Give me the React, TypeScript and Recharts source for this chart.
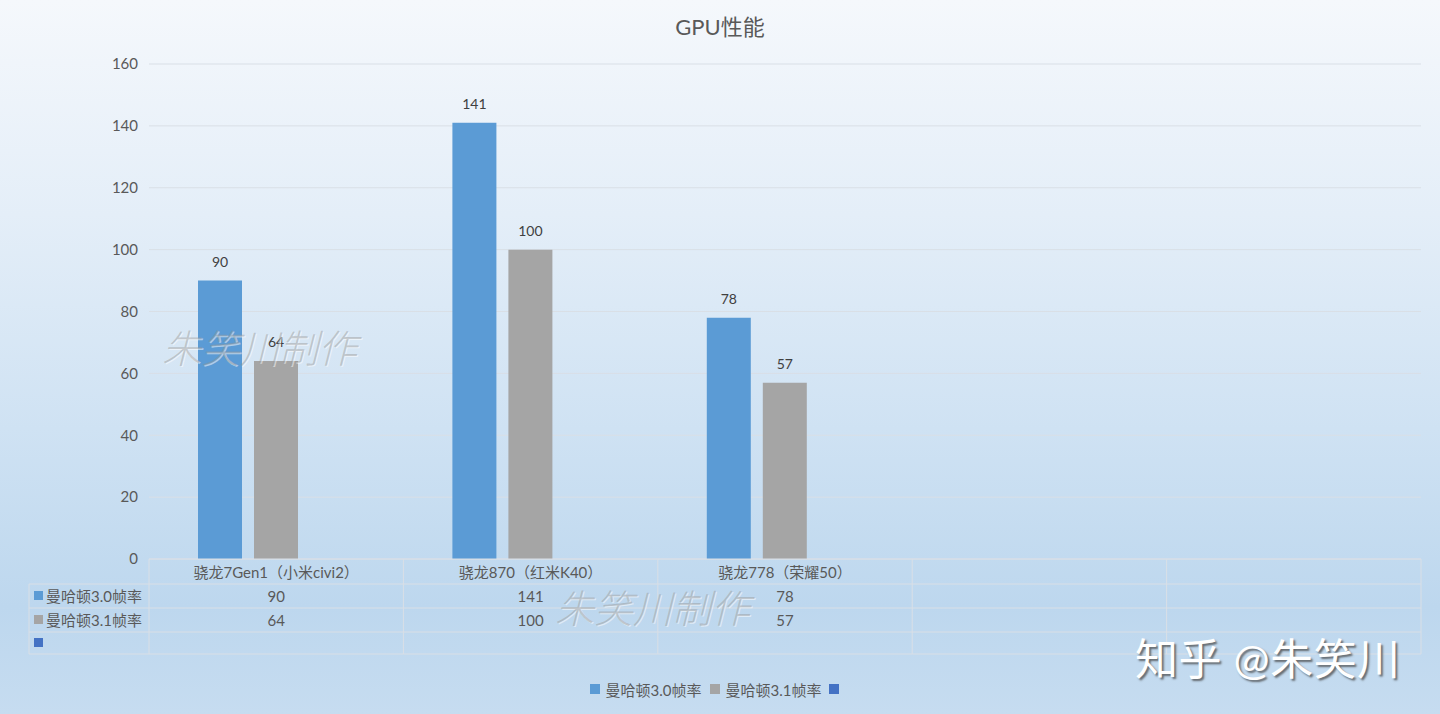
import React from "react";
import { BarChart, Bar, XAxis, YAxis, CartesianGrid, LabelList, Legend } from "recharts";

// chart values
const categories = ["骁龙7Gen1（小米civi2）", "骁龙870（红米K40）", "骁龙778（荣耀50）", "", ""];
const manhattan30 = [90, 141, 78, null, null];
const manhattan31 = [64, 100, 57, null, null];
const emptySeries = [null, null, null, null, null];
const seriesNames = ["曼哈顿3.0帧率", "曼哈顿3.1帧率", ""];
const seriesColors = ["#5b9bd5", "#a5a5a5", "#4472c4"];
const yTicks = [0, 20, 40, 60, 80, 100, 120, 140, 160];

const data = categories.map((c, i) => ({
  name: c || `blank-${i}`,
  s30: manhattan30[i],
  s31: manhattan31[i],
  s3x: emptySeries[i],
}));

const W = 1440;
const H = 714;
const MARGIN = { top: 64, right: 19, left: 0, bottom: 10 };
const Y_AXIS_W = 149;
const PLOT_W = W - MARGIN.left - MARGIN.right - Y_AXIS_W;
const CAT_W = PLOT_W / categories.length;
const LABEL_COL_W = 120;

const FONT = "Lato, 'Noto Sans CJK SC', sans-serif";
const TEXT = "#595959";
const LINE = "#d9dfe6";

const rowSeries = [manhattan30, manhattan31, emptySeries];
const ROW_TOP = [0, 25, 49, 73, 95]; // row borders, relative to axis line

// each x tick draws its own column of the data table
const TableTick = (props: any) => {
  const { x, y, index } = props;
  const half = CAT_W / 2;
  const left = x - half;
  const right = x + half;
  const cells: any[] = [];

  cells.push(
    <text key="h" x={x} y={y + 13} textAnchor="middle" dominantBaseline="central" fill={TEXT} fontSize={15}>
      {categories[index]}
    </text>
  );
  rowSeries.forEach((vals, r) => {
    const v = vals[index];
    const cy = y + (ROW_TOP[r + 1] + ROW_TOP[r + 2]) / 2;
    if (v != null)
      cells.push(
        <text key={`v${r}`} x={x} y={cy} textAnchor="middle" dominantBaseline="central" fill={TEXT} fontSize={15}>
          {v}
        </text>
      );
  });

  const lines: any[] = [];
  ROW_TOP.slice(1).forEach((t, i) =>
    lines.push(<line key={`r${i}`} x1={index === 0 ? left - LABEL_COL_W : left} x2={right} y1={y + t} y2={y + t} stroke={LINE} />)
  );
  lines.push(<line key="vr" x1={right} x2={right} y1={y} y2={y + ROW_TOP[4]} stroke={LINE} />);

  if (index === 0) {
    lines.push(<line key="vl" x1={left} x2={left} y1={y} y2={y + ROW_TOP[4]} stroke={LINE} />);
    lines.push(
      <line key="vo" x1={left - LABEL_COL_W} x2={left - LABEL_COL_W} y1={y + ROW_TOP[1]} y2={y + ROW_TOP[4]} stroke={LINE} />
    );
    seriesNames.forEach((n, r) => {
      const cy = y + (ROW_TOP[r + 1] + ROW_TOP[r + 2]) / 2;
      cells.push(
        <g key={`lab${r}`}>
          <rect x={left - LABEL_COL_W + 5} y={cy - 5} width={9} height={9} fill={seriesColors[r]} />
          <text x={left - LABEL_COL_W + 17} y={cy} dominantBaseline="central" fill={TEXT} fontSize={15}>
            {n}
          </text>
        </g>
      );
    });
  }

  return (
    <g fontFamily={FONT}>
      {lines}
      {cells}
    </g>
  );
};

const LegendContent = () => (
  <div
    style={{
      display: "flex",
      justifyContent: "center",
      alignItems: "center",
      height: 30,
      paddingLeft: 16,
      fontFamily: FONT,
      fontSize: 15,
      color: TEXT,
    }}
  >
    {seriesNames.map((n, i) => (
      <span key={i} style={{ display: "flex", alignItems: "center", marginRight: 8 }}>
        <span style={{ width: 10, height: 10, background: seriesColors[i], marginRight: n ? 6 : 0 }} />
        {n}
      </span>
    ))}
  </div>
);

export default function App() {
  return (
    <div
      style={{
        position: "absolute",
        left: 0,
        top: 0,
        width: W,
        height: H,
        overflow: "hidden",
        background: "linear-gradient(180deg, #f5f8fc 0%, #e4eef8 30%, #cfe2f3 60%, #bdd7ee 85%, #c6dcf0 100%)",
        fontFamily: FONT,
      }}
    >
      <div
        style={{
          position: "absolute",
          top: 9,
          left: 0,
          width: W,
          textAlign: "center",
          fontSize: 22,
          color: TEXT,
        }}
      >
        GPU性能
      </div>

      <BarChart width={W} height={H} data={data} margin={MARGIN} barSize={44} barGap={12}>
        <CartesianGrid vertical={false} stroke={LINE} />
        <YAxis
          width={Y_AXIS_W}
          domain={[0, 160]}
          ticks={yTicks}
          axisLine={false}
          tickLine={false}
          tickSize={0}
          tickMargin={11}
          tick={{ fill: TEXT, fontSize: 15, fontFamily: FONT }}
          interval={0}
        />
        <XAxis
          dataKey="name"
          height={115}
          axisLine={{ stroke: LINE }}
          tickLine={false}
          tickSize={0}
          tickMargin={0}
          interval={0}
          tick={<TableTick />}
        />
        <Legend verticalAlign="bottom" height={30} content={<LegendContent />} />
        <Bar dataKey="s30" name={seriesNames[0]} fill={seriesColors[0]} isAnimationActive={false}>
          <LabelList dataKey="s30" position="top" offset={14} fill="#404040" fontSize={14} fontFamily={FONT} />
        </Bar>
        <Bar dataKey="s31" name={seriesNames[1]} fill={seriesColors[1]} isAnimationActive={false}>
          <LabelList dataKey="s31" position="top" offset={14} fill="#404040" fontSize={14} fontFamily={FONT} />
        </Bar>
        <Bar dataKey="s3x" name="系列3" fill={seriesColors[2]} isAnimationActive={false} />
      </BarChart>

      {/* watermarks */}
      <div
        style={{
          position: "absolute",
          left: 162,
          top: 318,
          fontSize: 39,
          fontStyle: "italic",
          fontWeight: 300,
          color: "rgba(150,150,150,0.45)",
          textShadow: "1px 1px 0 rgba(255,255,255,0.5)",
          pointerEvents: "none",
          whiteSpace: "nowrap",
        }}
      >
        朱笑川制作
      </div>
      <div
        style={{
          position: "absolute",
          left: 555,
          top: 578,
          fontSize: 39,
          fontStyle: "italic",
          fontWeight: 300,
          color: "rgba(150,150,150,0.45)",
          textShadow: "1px 1px 0 rgba(255,255,255,0.5)",
          pointerEvents: "none",
          whiteSpace: "nowrap",
        }}
      >
        朱笑川制作
      </div>
      <div
        style={{
          position: "absolute",
          left: 1135,
          top: 625,
          fontSize: 43,
          fontWeight: 400,
          letterSpacing: 0.5,
          color: "#ffffff",
          textShadow: "2px 2px 2px rgba(70,70,70,0.75)",
          pointerEvents: "none",
          whiteSpace: "nowrap",
        }}
      >
        知乎 @朱笑川
      </div>
    </div>
  );
}
